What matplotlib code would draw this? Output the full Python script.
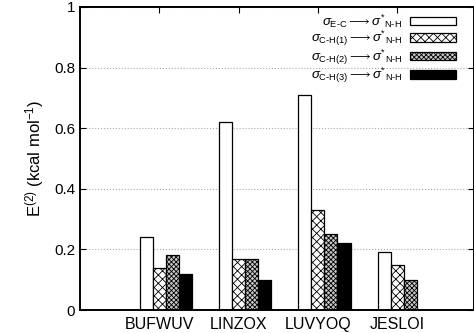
import numpy as np
import matplotlib
matplotlib.use('Agg')
import matplotlib.pyplot as plt

plt.rcParams['font.family'] = ['Liberation Sans', 'DejaVu Sans']
plt.rcParams['hatch.linewidth'] = 0.6
plt.rcParams['mathtext.fontset'] = 'custom'
plt.rcParams['mathtext.rm'] = 'Liberation Sans'
plt.rcParams['mathtext.it'] = 'Liberation Sans:italic'

molecules = ['BUFWUV', 'LINZOX', 'LUVYOQ', 'JESLOI']
e_c = [0.24, 0.62, 0.71, 0.19]
c_h1 = [0.14, 0.17, 0.33, 0.15]
c_h2 = [0.18, 0.17, 0.25, 0.10]
c_h3 = [0.12, 0.10, 0.22, 0.0]

labels = [r'$\sigma_{\mathrm{E\text{-}C}} \longrightarrow \sigma^{*}{}_{\mathrm{N\text{-}H}}$',
          r'$\sigma_{\mathrm{C\text{-}H(1)}} \longrightarrow \sigma^{*}{}_{\mathrm{N\text{-}H}}$',
          r'$\sigma_{\mathrm{C\text{-}H(2)}} \longrightarrow \sigma^{*}{}_{\mathrm{N\text{-}H}}$',
          r'$\sigma_{\mathrm{C\text{-}H(3)}} \longrightarrow \sigma^{*}{}_{\mathrm{N\text{-}H}}$']

styles = [dict(facecolor='white', hatch=None),
          dict(facecolor='white', hatch='xxxx'),
          dict(facecolor='#c8c8c8', hatch='xxxxxxx'),
          dict(facecolor='black', hatch=None)]

fig = plt.figure(figsize=(4.74, 3.33), dpi=100)
ax = fig.add_axes([0.169, 0.069, 0.83, 0.91])

x = np.arange(len(molecules))
w = 0.165
shift = 0.08
for k, vals in enumerate([e_c, c_h1, c_h2, c_h3]):
    pos = x + shift + (k - 1.5) * w
    ax.bar(pos, vals, width=w, edgecolor='black', linewidth=0.9,
           label=labels[k], **styles[k])

ax.set_ylim(0, 1)
ax.set_xlim(-1.0, 3.96)
ax.set_yticks([0, 0.2, 0.4, 0.6, 0.8, 1])
ax.set_yticklabels(['0', '0.2', '0.4', '0.6', '0.8', '1'], fontsize=11)
ax.set_xticks(x)
ax.set_xticklabels(molecules, fontsize=11.5)
ax.tick_params(direction='in', top=True, right=True, length=4, width=0.8)
ax.tick_params(axis='x', pad=5)
ax.yaxis.grid(True, linestyle=':', color='#aaaaaa', linewidth=0.8)
ax.set_axisbelow(True)
for s in ax.spines.values():
    s.set_linewidth(1.4)

ax.set_ylabel(r'E$^{(2)}$ (kcal mol$^{-1}$)', fontsize=12, labelpad=6)

ax.legend(loc='upper right', frameon=False, markerfirst=False, fontsize=9.5,
          handlelength=3.5, handleheight=0.6, labelspacing=-0.05,
          borderaxespad=0.3, borderpad=0.1, handletextpad=0.6,
          bbox_to_anchor=(0.97, 1.0))

fig.savefig('out.png', dpi=100)
